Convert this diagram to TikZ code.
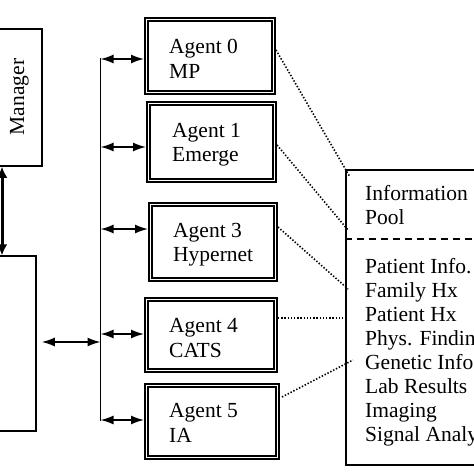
\documentclass[tikz,border=0pt]{standalone}
\usepackage{fontspec}
\setmainfont{Liberation Serif}
\usetikzlibrary{arrows.meta,calc}
\begin{document}
\begin{tikzpicture}[x=1pt,y=-1pt,
  plainbox/.style={draw,line width=1.5pt,rectangle,inner sep=0pt},
  agentbox/.style={draw,rectangle,inner sep=0pt,line width=1.6pt,double,double distance=1.8pt,outer sep=2.5pt},
  lbl/.style={inner sep=0pt,anchor=base west,font=\fontsize{21.5}{24}\selectfont},
  biarrow/.style={line width=1.6pt,{Latex[length=13pt,width=9pt]}-{Latex[length=13pt,width=9pt]}},
  thickarrow/.style={line width=3pt,{Latex[length=11pt,width=11pt]}-{Latex[length=11pt,width=11pt]}},
  busline/.style={line width=1.6pt},
  dotline/.style={line width=1.6pt,dash pattern=on 1.4pt off 1.8pt},
  sepline/.style={line width=1.8pt,dash pattern=on 7pt off 5pt}]
\useasboundingbox (0,0) rectangle (474,474);
\clip (0,0) rectangle (474,474);
% left boxes
\node[plainbox,minimum width=52pt,minimum height=137pt] (mgr) at (16,97.5) {};
\node[inner sep=0pt,anchor=base,rotate=90,font=\fontsize{21.5}{24}\selectfont] (mgrlbl) at (24,97) {Manager};
\node[plainbox,minimum width=46pt,minimum height=175pt] (low) at (13,343.5) {};
\coordinate (va) at (2,0);
\draw[thickarrow] (va |- mgr.south) -- (va |- low.north);
% bus
\coordinate (bustop) at (100.5,58);
\coordinate (busbot) at (100.5,420.5);
\draw[busline] (bustop) -- (busbot);
\draw[biarrow] ([xshift=5pt,yshift=1.5pt]low.east) -- ([yshift=1.5pt]low.east -| bustop);
% agents
\node[agentbox,minimum width=127pt,minimum height=73pt] (a0) at (210,56) {};
\node[agentbox,minimum width=126pt,minimum height=77pt] (a1) at (211.5,142) {};
\node[agentbox,minimum width=125pt,minimum height=75pt] (a3) at (213,242) {};
\node[agentbox,minimum width=129pt,minimum height=71pt] (a4) at (211,335) {};
\node[agentbox,minimum width=131pt,minimum height=72pt] (a5) at (212,421.5) {};
\node[lbl] (t0a) at (169,53) {Agent 0};
\node[lbl] (t0b) at (169,78) {MP};
\node[lbl] (t1a) at (172,137) {Agent 1};
\node[lbl] (t1b) at (172,161) {Emerge};
\node[lbl] (t3a) at (173,237) {Agent 3};
\node[lbl] (t3b) at (173,261) {Hypernet};
\node[lbl] (t4a) at (169,332) {Agent 4};
\node[lbl] (t4b) at (169,357) {CATS};
\node[lbl] (t5a) at (169,417) {Agent 5};
\node[lbl] (t5b) at (169,442) {IA};
% bus arrows
\coordinate (b0) at (100.5,59);
\coordinate (b1) at (100.5,147);
\coordinate (b3) at (100.5,229);
\coordinate (b4) at (100.5,334);
\coordinate (b5) at (100.5,420);
\draw[biarrow] (b0) -- (b0 -| a0.west);
\draw[biarrow] (b1) -- (b1 -| a1.west);
\draw[biarrow] (b3) -- (b3 -| a3.west);
\draw[biarrow] (b4) -- (b4 -| a4.west);
\draw[biarrow] (b5) -- (b5 -| a5.west);
% information pool
\node[plainbox,minimum width=144pt,minimum height=295pt] (pool) at (418,317.5) {};
\coordinate (sep) at (0,239);
\draw[sepline] (sep -| pool.west) -- (sep -| pool.east);
\node[lbl] (i1) at (365,200) {Information};
\node[lbl] (i2) at (365,224) {Pool};
\node[lbl] (l1) at (365,273) {Patient Info.};
\node[lbl] (l2) at (365,297) {Family Hx};
\node[lbl] (l3) at (365,321) {Patient Hx};
\node[lbl] (l4) at (365,345) {Phys. Findings};
\node[lbl] (l5) at (365,369) {Genetic Info.};
\node[lbl] (l6) at (365,393) {Lab Results};
\node[lbl] (l7) at (365,417) {Imaging};
\node[lbl] (l8) at (365,441) {Signal Analysis};
% dotted links
\coordinate (p0) at (350,177);
\coordinate (p1) at (348,230);
\coordinate (p3) at (348,289);
\coordinate (p4) at (346,318);
\coordinate (p5) at (353,360);
\draw[dotline] ([yshift=6pt]a0.east) -- (p0);
\draw[dotline] ([yshift=-3pt]a1.east) -- (p1);
\draw[dotline] ([yshift=15pt]a3.east) -- (p3);
\draw[dotline] ([yshift=17pt]a4.east) -- (p4);
\draw[dotline] ([xshift=2pt,yshift=24.5pt]a5.east) -- (p5);
\end{tikzpicture}
\end{document}
